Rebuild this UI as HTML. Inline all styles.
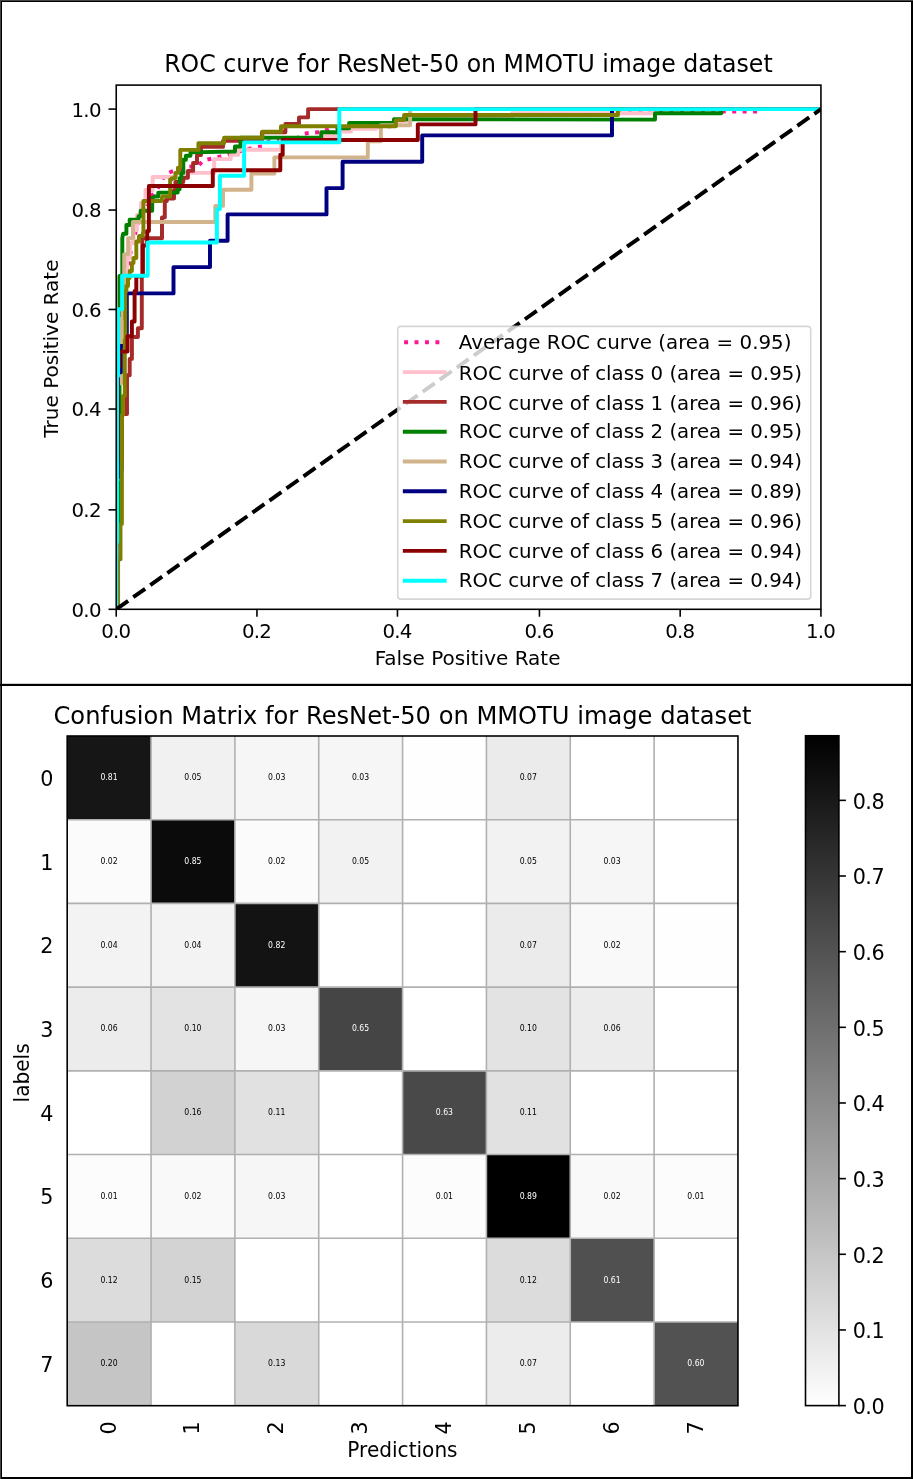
<!DOCTYPE html>
<html lang="en"><head><meta charset="utf-8"><title>ROC curve and Confusion Matrix for ResNet-50 on MMOTU image dataset</title>
<style>html,body{margin:0;padding:0;background:#fff}body{width:913px;height:1479px;overflow:hidden}svg{display:block}text{font-family:"DejaVu Sans","Liberation Sans",sans-serif}</style>
</head><body>
<svg width="913" height="1479" viewBox="0 0 913 1479">
<rect x="0" y="0" width="913" height="1479" fill="#fff"/>
<defs><clipPath id="c1"><rect x="116.24" y="85.10" width="704.70" height="524.20"/></clipPath></defs>
<g clip-path="url(#c1)" fill="none" stroke-width="3.94" stroke-linejoin="round">
<polyline points="116.2,609.0 117.0,420.0 120.0,330.0 125.0,280.0 130.0,255.0 136.0,230.0 141.0,212.0 148.0,200.0 157.3,189.3 161.6,181.7 164.9,174.2 171.8,171.5 189.2,166.6 198.0,166.3 203.0,160.4 211.2,158.7 220.8,156.4 253.7,147.6 262.4,146.5 269.0,141.1 276.7,140.5 298.0,139.5 300.0,134.5 303.1,133.8 311.4,132.7 322.0,132.0 328.9,128.9 345.0,127.0 395.0,126.2 396.0,120.5 404.0,120.1 405.0,115.5 618.0,114.8 620.0,111.8 762.0,111.5 762.0,109.1 820.9,109.1" stroke="#ff1493" stroke-dasharray="3.94 6.5"/>
<polyline points="116.2,609.4 116.2,440.0 118.5,440.0 118.5,340.0 121.0,340.0 121.0,300.0 124.0,300.0 124.0,275.0 127.0,275.0 127.0,258.0 130.0,258.0 130.0,243.0 133.5,243.0 133.5,230.0 137.0,230.0 137.0,215.0 141.0,215.0 141.0,203.0 145.5,203.0 145.5,190.0 152.7,190.0 152.7,177.0 176.0,177.0 176.0,172.9 214.2,172.9 214.2,159.1 230.7,159.1 230.7,154.8 238.3,154.8 238.3,149.8 281.0,149.8 281.0,140.0 322.9,140.0 322.9,136.0 340.0,136.0 340.0,131.6 351.0,131.6 351.0,128.9 376.0,128.9 376.0,124.0 400.0,124.0 400.0,121.0 410.0,121.0 410.0,117.0 512.0,117.0 512.0,113.3 652.5,113.3 652.5,109.1 820.9,109.1" stroke="#ffc0cb" stroke-linecap="square"/>
<polyline points="116.2,609.4 116.2,520.0 119.0,520.0 119.0,470.0 122.0,470.0 122.0,414.0 127.0,414.0 127.0,375.3 129.7,375.3 129.7,358.9 131.9,358.9 131.9,337.0 137.9,337.0 137.9,328.2 141.8,328.2 141.8,276.0 142.3,276.0 142.3,238.2 162.0,238.2 162.0,217.4 164.8,217.4 164.8,201.0 166.8,201.0 166.8,198.5 174.0,198.5 174.0,190.0 175.4,190.0 175.4,182.0 183.3,182.0 183.3,177.8 187.9,177.8 187.9,170.9 193.1,170.9 193.1,163.0 197.0,163.0 197.0,155.1 201.0,155.1 201.0,146.9 223.0,146.9 223.0,140.9 261.9,140.9 261.9,132.3 285.4,132.3 285.4,124.0 299.0,124.0 299.0,117.4 308.1,117.4 308.1,109.1 820.9,109.1" stroke="#a52a2a" stroke-linecap="square"/>
<polyline points="116.2,609.4 116.2,522.8 118.2,522.8 118.2,413.0 119.5,413.0 119.5,276.0 122.3,276.0 122.3,238.2 123.1,233.8 126.4,233.8 126.4,225.0 129.7,225.0 129.7,219.6 138.5,219.6 138.5,216.3 140.7,216.3 140.7,210.8 152.2,210.8 152.2,197.7 155.0,196.5 158.3,196.5 158.3,192.6 177.7,192.6 177.7,189.3 179.6,189.3 179.6,178.1 181.3,178.1 181.3,172.9 183.3,172.9 183.3,159.7 185.9,159.7 185.9,155.8 190.5,155.8 190.5,152.4 235.0,151.5 235.0,146.5 240.5,146.5 240.5,137.8 321.2,137.4 321.2,132.2 338.0,132.2 338.0,128.3 349.1,128.3 349.1,122.9 394.0,122.9 394.0,119.2 655.0,119.6 655.0,113.3 721.2,113.3 721.2,109.1 820.9,109.1" stroke="#008000" stroke-linecap="square"/>
<polyline points="116.2,609.4 116.2,480.2 117.5,480.2 117.5,383.4 121.0,383.4 121.0,318.8 122.5,318.8 122.5,302.7 124.2,302.7 124.2,254.3 128.1,254.3 128.1,238.1 133.0,238.1 133.0,222.0 215.3,222.0 215.3,205.9 223.0,205.9 223.0,189.7 251.4,189.7 251.4,173.6 274.4,173.6 274.4,157.4 367.8,157.4 367.8,141.3 380.9,141.3 380.9,125.2 410.1,125.2 410.1,109.1 820.9,109.1" stroke="#d2b48c" stroke-linecap="square"/>
<polyline points="116.2,609.4 116.2,477.7 117.8,477.7 117.8,372.4 120.8,372.4 120.8,346.0 126.8,346.0 126.8,293.4 173.5,293.4 173.5,267.1 210.0,267.1 210.0,240.7 227.6,240.7 227.6,214.4 326.5,214.4 326.5,188.1 342.6,188.1 342.6,161.7 422.2,161.7 422.2,135.4 612.0,135.4 612.0,109.1 820.9,109.1" stroke="#000080" stroke-linecap="square"/>
<polyline points="118.1,609.4 118.1,559.3 120.5,559.3 120.5,524.1 121.9,524.1 121.9,415.0 123.0,415.0 123.0,396.0 124.8,396.0 124.8,340.0 125.3,340.0 125.3,291.0 126.4,291.0 126.4,286.0 128.0,286.0 128.0,278.0 129.7,278.0 129.7,271.0 131.9,271.0 131.9,263.0 133.5,263.0 133.5,258.0 136.3,258.0 136.3,241.5 139.0,241.5 139.0,236.0 142.9,236.0 142.9,233.0 143.4,233.0 143.4,201.0 161.5,201.0 162.2,196.5 170.1,196.5 170.1,179.4 171.8,179.4 171.8,178.1 175.4,178.1 175.4,172.9 178.0,172.9 178.0,167.6 180.3,167.6 180.3,149.9 198.4,149.9 198.4,143.2 224.1,143.2 224.1,137.8 262.4,137.8 262.4,131.8 281.0,131.8 281.0,126.2 395.9,126.2 395.9,120.1 404.1,120.1 404.1,115.0 618.0,115.0 618.0,109.1 820.9,109.1" stroke="#808000" stroke-linecap="square"/>
<polyline points="116.2,609.4 116.2,460.0 117.8,460.0 117.8,366.8 119.3,366.8 119.3,351.6 127.5,351.6 127.5,336.2 131.9,336.2 131.9,321.5 134.6,321.5 134.6,291.0 136.3,291.0 136.3,276.2 142.9,276.2 142.9,245.5 147.2,245.5 147.2,231.0 148.9,231.0 148.9,186.0 212.8,186.0 212.8,170.3 280.3,170.3 280.3,154.8 282.7,154.8 282.7,140.0 417.8,140.0 417.8,124.4 475.5,124.4 475.5,109.1 820.9,109.1" stroke="#8b0000" stroke-linecap="square"/>
<polyline points="116.3,609.4 116.3,542.6 117.1,542.6 117.1,376.0 118.1,376.0 118.1,309.2 122.1,309.2 122.1,275.8 147.7,275.8 147.7,242.5 216.9,242.5 216.9,209.1 219.9,209.1 219.9,175.8 244.1,175.8 244.1,142.4 339.3,142.4 339.3,109.1 820.9,109.1" stroke="#00ffff" stroke-linecap="square"/>
<line x1="116.24" y1="609.30" x2="820.94" y2="109.10" stroke="#000" stroke-dasharray="14.58 6.3"/>
</g>
<rect x="116.24" y="85.10" width="704.70" height="524.20" fill="none" stroke="#000" stroke-width="1.58"/>
<g stroke="#000" stroke-width="1.58">
<line x1="116.24" y1="609.30" x2="116.24" y2="616.70"/>
<line x1="116.24" y1="609.30" x2="108.54" y2="609.30"/>
<line x1="256.95" y1="609.30" x2="256.95" y2="616.70"/>
<line x1="116.24" y1="509.85" x2="108.54" y2="509.85"/>
<line x1="397.46" y1="609.30" x2="397.46" y2="616.70"/>
<line x1="116.24" y1="409.05" x2="108.54" y2="409.05"/>
<line x1="539.44" y1="609.30" x2="539.44" y2="616.70"/>
<line x1="116.24" y1="309.45" x2="108.54" y2="309.45"/>
<line x1="680.18" y1="609.30" x2="680.18" y2="616.70"/>
<line x1="116.24" y1="210.05" x2="108.54" y2="210.05"/>
<line x1="820.94" y1="609.30" x2="820.94" y2="616.70"/>
<line x1="116.24" y1="109.10" x2="108.54" y2="109.10"/>
</g>
<g font-size="19.8px">
<text x="115.84" y="638.20" text-anchor="middle" letter-spacing="-0.75">0.0</text>
<text x="100.75" y="616.70" text-anchor="end" letter-spacing="-0.75">0.0</text>
<text x="256.55" y="638.20" text-anchor="middle" letter-spacing="-0.75">0.2</text>
<text x="100.75" y="517.25" text-anchor="end" letter-spacing="-0.75">0.2</text>
<text x="397.06" y="638.20" text-anchor="middle" letter-spacing="-0.75">0.4</text>
<text x="100.75" y="416.45" text-anchor="end" letter-spacing="-0.75">0.4</text>
<text x="539.04" y="638.20" text-anchor="middle" letter-spacing="-0.75">0.6</text>
<text x="100.75" y="316.85" text-anchor="end" letter-spacing="-0.75">0.6</text>
<text x="679.78" y="638.20" text-anchor="middle" letter-spacing="-0.75">0.8</text>
<text x="100.75" y="217.45" text-anchor="end" letter-spacing="-0.75">0.8</text>
<text x="820.54" y="638.20" text-anchor="middle" letter-spacing="-0.75">1.0</text>
<text x="100.75" y="116.50" text-anchor="end" letter-spacing="-0.75">1.0</text>
<text x="467.60" y="664.90" text-anchor="middle" font-size="20px">False Positive Rate</text>
<text transform="translate(57.70,348.60) rotate(-90)" text-anchor="middle" font-size="20px">True Positive Rate</text>
</g>
<text transform="translate(468.40,71.80) scale(1,1.070)" text-anchor="middle" font-size="23.64px">ROC curve for ResNet-50 on MMOTU image dataset</text>
<rect x="397.75" y="326.40" width="412.95" height="272.70" rx="3.2" ry="3.2" fill="#fff" fill-opacity="0.8" stroke="#ccc" stroke-opacity="0.8" stroke-width="1.58"/>
<g font-size="19.8px" stroke-width="3.94" fill="none">
<line x1="404.1" y1="342.30" x2="444.8" y2="342.30" stroke="#ff1493" stroke-dasharray="3.94 6.5"/>
<text x="458.8" y="348.50" font-size="19.88px" stroke="none" fill="#000">Average ROC curve (area = 0.95)</text>
<line x1="404.8" y1="372.10" x2="444.7" y2="372.10" stroke="#ffc0cb" stroke-linecap="square"/>
<text x="458.8" y="379.70" font-size="19.78px" stroke="none" fill="#000">ROC curve of class 0 (area = 0.95)</text>
<line x1="404.8" y1="401.90" x2="444.7" y2="401.90" stroke="#a52a2a" stroke-linecap="square"/>
<text x="458.8" y="409.60" font-size="19.78px" stroke="none" fill="#000">ROC curve of class 1 (area = 0.96)</text>
<line x1="404.8" y1="431.70" x2="444.7" y2="431.70" stroke="#008000" stroke-linecap="square"/>
<text x="458.8" y="438.20" font-size="19.78px" stroke="none" fill="#000">ROC curve of class 2 (area = 0.95)</text>
<line x1="404.8" y1="461.50" x2="444.7" y2="461.50" stroke="#d2b48c" stroke-linecap="square"/>
<text x="458.8" y="468.00" font-size="19.78px" stroke="none" fill="#000">ROC curve of class 3 (area = 0.94)</text>
<line x1="404.8" y1="491.30" x2="444.7" y2="491.30" stroke="#000080" stroke-linecap="square"/>
<text x="458.8" y="497.70" font-size="19.78px" stroke="none" fill="#000">ROC curve of class 4 (area = 0.89)</text>
<line x1="404.8" y1="521.10" x2="444.7" y2="521.10" stroke="#808000" stroke-linecap="square"/>
<text x="458.8" y="527.80" font-size="19.78px" stroke="none" fill="#000">ROC curve of class 5 (area = 0.96)</text>
<line x1="404.8" y1="550.90" x2="444.7" y2="550.90" stroke="#8b0000" stroke-linecap="square"/>
<text x="458.8" y="557.50" font-size="19.78px" stroke="none" fill="#000">ROC curve of class 6 (area = 0.94)</text>
<line x1="404.8" y1="580.70" x2="444.7" y2="580.70" stroke="#00ffff" stroke-linecap="square"/>
<text x="458.8" y="587.30" font-size="19.78px" stroke="none" fill="#000">ROC curve of class 7 (area = 0.94)</text>
</g>
<g shape-rendering="crispEdges">
<rect x="67.20" y="736.00" width="83.84" height="83.71" fill="rgb(22,22,22)"/>
<rect x="151.04" y="736.00" width="83.84" height="83.71" fill="rgb(241,241,241)"/>
<rect x="234.89" y="736.00" width="83.84" height="83.71" fill="rgb(246,246,246)"/>
<rect x="318.73" y="736.00" width="83.84" height="83.71" fill="rgb(246,246,246)"/>
<rect x="402.57" y="736.00" width="83.84" height="83.71" fill="rgb(254,254,254)"/>
<rect x="486.42" y="736.00" width="83.84" height="83.71" fill="rgb(235,235,235)"/>
<rect x="67.20" y="819.71" width="83.84" height="83.71" fill="rgb(251,251,251)"/>
<rect x="151.04" y="819.71" width="83.84" height="83.71" fill="rgb(11,11,11)"/>
<rect x="234.89" y="819.71" width="83.84" height="83.71" fill="rgb(251,251,251)"/>
<rect x="318.73" y="819.71" width="83.84" height="83.71" fill="rgb(242,242,242)"/>
<rect x="486.42" y="819.71" width="83.84" height="83.71" fill="rgb(242,242,242)"/>
<rect x="570.26" y="819.71" width="83.84" height="83.71" fill="rgb(246,246,246)"/>
<rect x="67.20" y="903.42" width="83.84" height="83.71" fill="rgb(243,243,243)"/>
<rect x="151.04" y="903.42" width="83.84" height="83.71" fill="rgb(243,243,243)"/>
<rect x="234.89" y="903.42" width="83.84" height="83.71" fill="rgb(19,19,19)"/>
<rect x="486.42" y="903.42" width="83.84" height="83.71" fill="rgb(235,235,235)"/>
<rect x="570.26" y="903.42" width="83.84" height="83.71" fill="rgb(249,249,249)"/>
<rect x="654.11" y="903.42" width="83.84" height="83.71" fill="rgb(254,254,254)"/>
<rect x="67.20" y="987.14" width="83.84" height="83.71" fill="rgb(236,236,236)"/>
<rect x="151.04" y="987.14" width="83.84" height="83.71" fill="rgb(227,227,227)"/>
<rect x="234.89" y="987.14" width="83.84" height="83.71" fill="rgb(246,246,246)"/>
<rect x="318.73" y="987.14" width="83.84" height="83.71" fill="rgb(69,69,69)"/>
<rect x="486.42" y="987.14" width="83.84" height="83.71" fill="rgb(227,227,227)"/>
<rect x="570.26" y="987.14" width="83.84" height="83.71" fill="rgb(236,236,236)"/>
<rect x="151.04" y="1070.85" width="83.84" height="83.71" fill="rgb(210,210,210)"/>
<rect x="234.89" y="1070.85" width="83.84" height="83.71" fill="rgb(225,225,225)"/>
<rect x="402.57" y="1070.85" width="83.84" height="83.71" fill="rgb(73,73,73)"/>
<rect x="486.42" y="1070.85" width="83.84" height="83.71" fill="rgb(225,225,225)"/>
<rect x="67.20" y="1154.56" width="83.84" height="83.71" fill="rgb(252,252,252)"/>
<rect x="151.04" y="1154.56" width="83.84" height="83.71" fill="rgb(249,249,249)"/>
<rect x="234.89" y="1154.56" width="83.84" height="83.71" fill="rgb(246,246,246)"/>
<rect x="402.57" y="1154.56" width="83.84" height="83.71" fill="rgb(252,252,252)"/>
<rect x="486.42" y="1154.56" width="83.84" height="83.71" fill="rgb(0,0,0)"/>
<rect x="570.26" y="1154.56" width="83.84" height="83.71" fill="rgb(249,249,249)"/>
<rect x="654.11" y="1154.56" width="83.84" height="83.71" fill="rgb(252,252,252)"/>
<rect x="67.20" y="1238.28" width="83.84" height="83.71" fill="rgb(220,220,220)"/>
<rect x="151.04" y="1238.28" width="83.84" height="83.71" fill="rgb(211,211,211)"/>
<rect x="486.42" y="1238.28" width="83.84" height="83.71" fill="rgb(220,220,220)"/>
<rect x="570.26" y="1238.28" width="83.84" height="83.71" fill="rgb(80,80,80)"/>
<rect x="67.20" y="1321.99" width="83.84" height="83.71" fill="rgb(197,197,197)"/>
<rect x="234.89" y="1321.99" width="83.84" height="83.71" fill="rgb(217,217,217)"/>
<rect x="486.42" y="1321.99" width="83.84" height="83.71" fill="rgb(236,236,236)"/>
<rect x="654.11" y="1321.99" width="83.84" height="83.71" fill="rgb(82,82,82)"/>
</g>
<g stroke="#b0b0b0" stroke-width="1.6">
<line x1="151.04" y1="736.00" x2="151.04" y2="1405.70"/>
<line x1="67.20" y1="819.71" x2="737.95" y2="819.71"/>
<line x1="234.89" y1="736.00" x2="234.89" y2="1405.70"/>
<line x1="67.20" y1="903.42" x2="737.95" y2="903.42"/>
<line x1="318.73" y1="736.00" x2="318.73" y2="1405.70"/>
<line x1="67.20" y1="987.14" x2="737.95" y2="987.14"/>
<line x1="402.57" y1="736.00" x2="402.57" y2="1405.70"/>
<line x1="67.20" y1="1070.85" x2="737.95" y2="1070.85"/>
<line x1="486.42" y1="736.00" x2="486.42" y2="1405.70"/>
<line x1="67.20" y1="1154.56" x2="737.95" y2="1154.56"/>
<line x1="570.26" y1="736.00" x2="570.26" y2="1405.70"/>
<line x1="67.20" y1="1238.28" x2="737.95" y2="1238.28"/>
<line x1="654.11" y1="736.00" x2="654.11" y2="1405.70"/>
<line x1="67.20" y1="1321.99" x2="737.95" y2="1321.99"/>
</g>
<g font-size="7.75px">
<text transform="translate(109.02,780.26) scale(1.000,1.100)" text-anchor="middle" fill="#fff">0.81</text>
<text transform="translate(192.87,780.26) scale(1.000,1.100)" text-anchor="middle" fill="#000">0.05</text>
<text transform="translate(276.71,780.26) scale(1.000,1.100)" text-anchor="middle" fill="#000">0.03</text>
<text transform="translate(360.55,780.26) scale(1.000,1.100)" text-anchor="middle" fill="#000">0.03</text>
<text transform="translate(528.24,780.26) scale(1.000,1.100)" text-anchor="middle" fill="#000">0.07</text>
<text transform="translate(109.02,863.97) scale(1.000,1.100)" text-anchor="middle" fill="#000">0.02</text>
<text transform="translate(192.87,863.97) scale(1.000,1.100)" text-anchor="middle" fill="#fff">0.85</text>
<text transform="translate(276.71,863.97) scale(1.000,1.100)" text-anchor="middle" fill="#000">0.02</text>
<text transform="translate(360.55,863.97) scale(1.000,1.100)" text-anchor="middle" fill="#000">0.05</text>
<text transform="translate(528.24,863.97) scale(1.000,1.100)" text-anchor="middle" fill="#000">0.05</text>
<text transform="translate(612.08,863.97) scale(1.000,1.100)" text-anchor="middle" fill="#000">0.03</text>
<text transform="translate(109.02,947.68) scale(1.000,1.100)" text-anchor="middle" fill="#000">0.04</text>
<text transform="translate(192.87,947.68) scale(1.000,1.100)" text-anchor="middle" fill="#000">0.04</text>
<text transform="translate(276.71,947.68) scale(1.000,1.100)" text-anchor="middle" fill="#fff">0.82</text>
<text transform="translate(528.24,947.68) scale(1.000,1.100)" text-anchor="middle" fill="#000">0.07</text>
<text transform="translate(612.08,947.68) scale(1.000,1.100)" text-anchor="middle" fill="#000">0.02</text>
<text transform="translate(109.02,1031.39) scale(1.000,1.100)" text-anchor="middle" fill="#000">0.06</text>
<text transform="translate(192.87,1031.39) scale(1.000,1.100)" text-anchor="middle" fill="#000">0.10</text>
<text transform="translate(276.71,1031.39) scale(1.000,1.100)" text-anchor="middle" fill="#000">0.03</text>
<text transform="translate(360.55,1031.39) scale(1.000,1.100)" text-anchor="middle" fill="#fff">0.65</text>
<text transform="translate(528.24,1031.39) scale(1.000,1.100)" text-anchor="middle" fill="#000">0.10</text>
<text transform="translate(612.08,1031.39) scale(1.000,1.100)" text-anchor="middle" fill="#000">0.06</text>
<text transform="translate(192.87,1115.11) scale(1.000,1.100)" text-anchor="middle" fill="#000">0.16</text>
<text transform="translate(276.71,1115.11) scale(1.000,1.100)" text-anchor="middle" fill="#000">0.11</text>
<text transform="translate(444.40,1115.11) scale(1.000,1.100)" text-anchor="middle" fill="#fff">0.63</text>
<text transform="translate(528.24,1115.11) scale(1.000,1.100)" text-anchor="middle" fill="#000">0.11</text>
<text transform="translate(109.02,1198.82) scale(1.000,1.100)" text-anchor="middle" fill="#000">0.01</text>
<text transform="translate(192.87,1198.82) scale(1.000,1.100)" text-anchor="middle" fill="#000">0.02</text>
<text transform="translate(276.71,1198.82) scale(1.000,1.100)" text-anchor="middle" fill="#000">0.03</text>
<text transform="translate(444.40,1198.82) scale(1.000,1.100)" text-anchor="middle" fill="#000">0.01</text>
<text transform="translate(528.24,1198.82) scale(1.000,1.100)" text-anchor="middle" fill="#fff">0.89</text>
<text transform="translate(612.08,1198.82) scale(1.000,1.100)" text-anchor="middle" fill="#000">0.02</text>
<text transform="translate(695.93,1198.82) scale(1.000,1.100)" text-anchor="middle" fill="#000">0.01</text>
<text transform="translate(109.02,1282.53) scale(1.000,1.100)" text-anchor="middle" fill="#000">0.12</text>
<text transform="translate(192.87,1282.53) scale(1.000,1.100)" text-anchor="middle" fill="#000">0.15</text>
<text transform="translate(528.24,1282.53) scale(1.000,1.100)" text-anchor="middle" fill="#000">0.12</text>
<text transform="translate(612.08,1282.53) scale(1.000,1.100)" text-anchor="middle" fill="#fff">0.61</text>
<text transform="translate(109.02,1366.24) scale(1.000,1.100)" text-anchor="middle" fill="#000">0.20</text>
<text transform="translate(276.71,1366.24) scale(1.000,1.100)" text-anchor="middle" fill="#000">0.13</text>
<text transform="translate(528.24,1366.24) scale(1.000,1.100)" text-anchor="middle" fill="#000">0.07</text>
<text transform="translate(695.93,1366.24) scale(1.000,1.100)" text-anchor="middle" fill="#fff">0.60</text>
</g>
<rect x="67.20" y="736.00" width="670.75" height="669.70" fill="none" stroke="#000" stroke-width="1.6"/>
<g font-size="20.1px">
<text transform="translate(52.90,785.86) scale(1.030,1.045)" text-anchor="end" letter-spacing="-0.45">0</text>
<text transform="translate(115.62,1434.40) rotate(-90) scale(1.030,1.045)" text-anchor="start" letter-spacing="-0.45">0</text>
<text transform="translate(52.90,869.57) scale(1.030,1.045)" text-anchor="end" letter-spacing="-0.45">1</text>
<text transform="translate(199.47,1434.40) rotate(-90) scale(1.030,1.045)" text-anchor="start" letter-spacing="-0.45">1</text>
<text transform="translate(52.90,953.28) scale(1.030,1.045)" text-anchor="end" letter-spacing="-0.45">2</text>
<text transform="translate(283.31,1434.40) rotate(-90) scale(1.030,1.045)" text-anchor="start" letter-spacing="-0.45">2</text>
<text transform="translate(52.90,1036.99) scale(1.030,1.045)" text-anchor="end" letter-spacing="-0.45">3</text>
<text transform="translate(367.15,1434.40) rotate(-90) scale(1.030,1.045)" text-anchor="start" letter-spacing="-0.45">3</text>
<text transform="translate(52.90,1120.71) scale(1.030,1.045)" text-anchor="end" letter-spacing="-0.45">4</text>
<text transform="translate(451.00,1434.40) rotate(-90) scale(1.030,1.045)" text-anchor="start" letter-spacing="-0.45">4</text>
<text transform="translate(52.90,1204.42) scale(1.030,1.045)" text-anchor="end" letter-spacing="-0.45">5</text>
<text transform="translate(534.84,1434.40) rotate(-90) scale(1.030,1.045)" text-anchor="start" letter-spacing="-0.45">5</text>
<text transform="translate(52.90,1288.13) scale(1.030,1.045)" text-anchor="end" letter-spacing="-0.45">6</text>
<text transform="translate(618.68,1434.40) rotate(-90) scale(1.030,1.045)" text-anchor="start" letter-spacing="-0.45">6</text>
<text transform="translate(52.90,1371.84) scale(1.030,1.045)" text-anchor="end" letter-spacing="-0.45">7</text>
<text transform="translate(702.53,1434.40) rotate(-90) scale(1.030,1.045)" text-anchor="start" letter-spacing="-0.45">7</text>
<text transform="translate(402.45,1456.70) scale(1.000,1.045)" text-anchor="middle">Predictions</text>
<text transform="translate(28.95,1072.90) rotate(-90) scale(1.000,1.075)" text-anchor="middle">labels</text>
</g>
<text x="402.5" y="723.6" text-anchor="middle" font-size="24.16px">Confusion Matrix for ResNet-50 on MMOTU image dataset</text>
<defs><linearGradient id="cb" x1="0" y1="0" x2="0" y2="1"><stop offset="0" stop-color="#000"/><stop offset="1" stop-color="#fff"/></linearGradient></defs>
<rect x="805.50" y="735.75" width="33.40" height="669.85" fill="url(#cb)" stroke="#000" stroke-width="1.6"/>
<g font-size="20.1px" stroke="#000" stroke-width="1.6">
<line x1="838.90" y1="1405.60" x2="845.90" y2="1405.60"/>
<text transform="translate(852.65,1413.85) scale(1.03,1.045)" letter-spacing="-0.45" stroke="none">0.0</text>
<line x1="838.90" y1="1329.94" x2="845.90" y2="1329.94"/>
<text transform="translate(852.65,1338.19) scale(1.03,1.045)" letter-spacing="-0.45" stroke="none">0.1</text>
<line x1="838.90" y1="1254.29" x2="845.90" y2="1254.29"/>
<text transform="translate(852.65,1262.54) scale(1.03,1.045)" letter-spacing="-0.45" stroke="none">0.2</text>
<line x1="838.90" y1="1178.63" x2="845.90" y2="1178.63"/>
<text transform="translate(852.65,1186.88) scale(1.03,1.045)" letter-spacing="-0.45" stroke="none">0.3</text>
<line x1="838.90" y1="1102.98" x2="845.90" y2="1102.98"/>
<text transform="translate(852.65,1111.23) scale(1.03,1.045)" letter-spacing="-0.45" stroke="none">0.4</text>
<line x1="838.90" y1="1027.32" x2="845.90" y2="1027.32"/>
<text transform="translate(852.65,1035.57) scale(1.03,1.045)" letter-spacing="-0.45" stroke="none">0.5</text>
<line x1="838.90" y1="951.67" x2="845.90" y2="951.67"/>
<text transform="translate(852.65,959.92) scale(1.03,1.045)" letter-spacing="-0.45" stroke="none">0.6</text>
<line x1="838.90" y1="876.01" x2="845.90" y2="876.01"/>
<text transform="translate(852.65,884.26) scale(1.03,1.045)" letter-spacing="-0.45" stroke="none">0.7</text>
<line x1="838.90" y1="800.36" x2="845.90" y2="800.36"/>
<text transform="translate(852.65,808.61) scale(1.03,1.045)" letter-spacing="-0.45" stroke="none">0.8</text>
</g>
<rect x="1" y="1" width="911" height="1477" fill="none" stroke="#000" stroke-width="2"/>
<rect x="0" y="0" width="1" height="1479" fill="#444"/><rect x="0" y="0" width="913" height="1" fill="#444"/>
<rect x="0" y="683.8" width="913" height="2.2" fill="#000"/>
</svg></body></html>
